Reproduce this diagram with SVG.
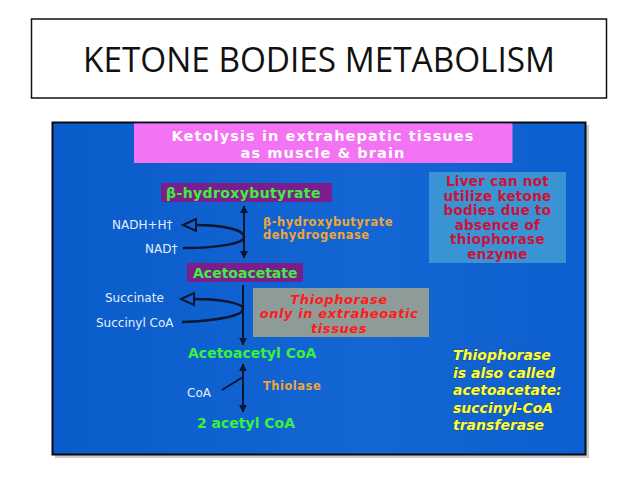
<svg xmlns="http://www.w3.org/2000/svg" width="638" height="478" viewBox="0 0 638 478">
<style>
.b{font-family:"DejaVu Sans",Verdana,sans-serif;font-weight:bold}
.r{font-family:"DejaVu Sans",Verdana,sans-serif;font-weight:normal;fill:#e6eefa;font-size:12px}
.g{fill:#3cf03c;font-size:14px}
.o{fill:#f0a53a;font-size:11.5px;letter-spacing:0.5px}
.red{fill:#cc1238;font-size:13.5px;letter-spacing:0.3px}
.it{font-style:italic}
.y{fill:#ffff3a;font-size:14px;font-style:italic;stroke:#333300;stroke-width:0.4px;paint-order:stroke}
.ln{fill:none;stroke:#0a1530;stroke-width:2.5}
.ar{fill:none;stroke:#0a1530;stroke-width:2}
.oh{fill:#1560cc;stroke:#0a1530;stroke-width:2;stroke-linejoin:miter}
</style>
<defs>
<linearGradient id="bg" x1="0" y1="0" x2="1" y2="0">
<stop offset="0" stop-color="#0a5ccb"/>
<stop offset="0.6" stop-color="#1366d3"/>
<stop offset="1" stop-color="#0d5fcf"/>
</linearGradient>
<marker id="ah" viewBox="0 0 10 10" refX="9" refY="5" markerWidth="4" markerHeight="4" orient="auto-start-reverse" markerUnits="strokeWidth">
<path d="M0,0 L10,5 L0,10 Z" fill="#0a1530"/>
</marker>
</defs>
<rect width="638" height="478" fill="#ffffff"/>
<g id="title">
<rect x="31.5" y="19" width="575" height="79" fill="#ffffff" stroke="#111" stroke-width="1.5"/>
<text x="319" y="72" text-anchor="middle" font-family="'Open Sans','Liberation Sans',sans-serif" font-size="35" fill="#111" textLength="472" lengthAdjust="spacingAndGlyphs">KETONE BODIES METABOLISM</text>
</g>
<g id="panel">
<rect x="55" y="125" width="534" height="333" fill="#9a9a9a" opacity="0.5"/>
<rect x="52.5" y="122.5" width="533" height="332" fill="url(#bg)" stroke="#0a0a14" stroke-width="2"/>
</g>
<g id="header">
<rect x="134" y="123.5" width="378.5" height="39.5" fill="#f472f4"/>
<text class="b" x="323" y="141" text-anchor="middle" font-size="14.5" letter-spacing="1.1" fill="#ffffff">Ketolysis in extrahepatic tissues</text>
<text class="b" x="323" y="158" text-anchor="middle" font-size="14.5" letter-spacing="1.1" fill="#ffffff">as muscle &amp; brain</text>
</g>
<g id="bhb">
<rect x="161" y="183" width="171" height="19" fill="#7c1d8d"/>
<text class="b g" x="166" y="198" letter-spacing="0.4">β-hydroxybutyrate</text>
</g>
<g id="acetoacetate">
<rect x="187" y="263" width="116" height="19" fill="#7c1d8d"/>
<text class="b g" x="193" y="278">Acetoacetate</text>
</g>
<g id="acetoacetylcoa">
<text class="b g" x="188" y="358">Acetoacetyl CoA</text>
</g>
<g id="acetylcoa">
<text class="b g" x="197" y="428">2 acetyl CoA</text>
</g>
<g id="enzyme1">
<text class="b o" x="263" y="226">β-hydroxybutyrate</text>
<text class="b o" x="263" y="239">dehydrogenase</text>
</g>
<g id="thiolase">
<text class="b o" x="263" y="390" font-size="13" letter-spacing="0.3">Thiolase</text>
</g>
<g id="cofactors">
<text class="r" x="112" y="229">NADH+H†</text>
<text class="r" x="145" y="253">NAD†</text>
<text class="r" x="105" y="302">Succinate</text>
<text class="r" x="96" y="327">Succinyl CoA</text>
<text class="r" x="187" y="397">CoA</text>
</g>
<g id="thiophorase-box">
<rect x="253" y="288" width="176" height="49" fill="#8d9c99"/>
<text class="b it" x="339" y="303.5" text-anchor="middle" font-size="13" letter-spacing="0.6" fill="#ff1a1a">Thiophorase</text>
<text class="b it" x="339" y="318" text-anchor="middle" font-size="13" letter-spacing="0.6" fill="#ff1a1a">only in extraheoatic</text>
<text class="b it" x="339" y="332.5" text-anchor="middle" font-size="13" letter-spacing="0.6" fill="#ff1a1a">tissues</text>
</g>
<g id="liver-box">
<rect x="429" y="172" width="137" height="91" fill="#3a94d4"/>
<text class="b red" x="497.5" y="186" text-anchor="middle">Liver can not</text>
<text class="b red" x="497.5" y="200.5" text-anchor="middle">utilize ketone</text>
<text class="b red" x="497.5" y="215" text-anchor="middle">bodies due to</text>
<text class="b red" x="497.5" y="229.5" text-anchor="middle">absence of</text>
<text class="b red" x="497.5" y="244" text-anchor="middle">thiophorase</text>
<text class="b red" x="497.5" y="259" text-anchor="middle">enzyme</text>
</g>
<g id="note">
<text class="b y" x="453" y="360">Thiophorase</text>
<text class="b y" x="453" y="378">is also called</text>
<text class="b y" x="453" y="395">acetoacetate:</text>
<text class="b y" x="453" y="413">succinyl-CoA</text>
<text class="b y" x="453" y="430">transferase</text>
</g>
<g id="connectors">
<line class="ar" x1="244" y1="206" x2="244" y2="258" marker-start="url(#ah)" marker-end="url(#ah)"/>
<path class="ln" d="M183,248 C215,248 244,244 244,237 C244,229 220,225 196,225"/>
<polygon class="oh" points="183,225 196,219 196,231"/>
<line class="ar" x1="243" y1="285" x2="243" y2="345" marker-end="url(#ah)"/>
<path class="ln" d="M182,322 C215,321 243,316 243,309 C243,302 215,299 193,299"/>
<polygon class="oh" points="181,299 194,293 194,305"/>
<line class="ar" x1="243" y1="364" x2="243" y2="412" marker-start="url(#ah)" marker-end="url(#ah)"/>
<line class="ar" x1="222" y1="390" x2="243" y2="377"/>
</g>
</svg>
